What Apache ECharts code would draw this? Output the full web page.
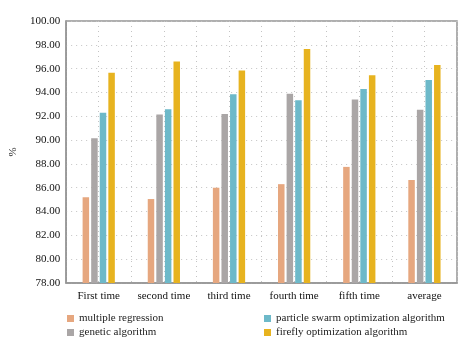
<!DOCTYPE html>
<html>
<head>
<meta charset="utf-8">
<script src="https://cdn.jsdelivr.net/npm/echarts@6/dist/echarts.min.js"></script>
<style>
  html, body { margin: 0; padding: 0; background: #fff; }
  #chart { width: 474px; height: 353px; }
</style>
</head>
<body>
<div id="chart"></div>
<script>
const categories = ['First time', 'second time', 'third time', 'fourth time', 'fifth time', 'average']
const multipleRegression = [85.2, 85.05, 86.0, 86.3, 87.75, 86.65]
const geneticAlgorithm = [90.15, 92.15, 92.2, 93.9, 93.4, 92.55]
const particleSwarm = [92.3, 92.6, 93.85, 93.35, 94.3, 95.05]
const fireflyAlgorithm = [95.65, 96.6, 95.85, 97.65, 95.45, 96.3]
const yTicks = { min: 78, max: 100, step: 2 }

const seriesNames = [
  'multiple regression',
  'genetic algorithm',
  'particle swarm optimization algorithm',
  'firefly optimization algorithm'
]
const seriesData = [multipleRegression, geneticAlgorithm, particleSwarm, fireflyAlgorithm]
const colors = ['#e6a77f', '#aaa6a6', '#6db9c9', '#e7b31f']

const font = '"Liberation Serif", "DejaVu Serif", serif'
const dotted = { color: '#c4c4c4', type: [1, 4], width: 1 }

const chart = echarts.init(document.getElementById('chart'))

const legendStyle = {
  orient: 'vertical',
  top: 308,
  itemWidth: 7,
  itemHeight: 7,
  itemGap: 3,
  icon: 'rect',
  textStyle: { fontFamily: font, fontSize: 11, color: '#222' }
}

chart.setOption({
  animation: false,
  textStyle: { fontFamily: font },
  grid: {
    left: 64,
    right: 17,
    top: 21,
    bottom: 70,
    show: true,
    borderColor: '#959595',
    borderWidth: 1.5
  },
  legend: [
    Object.assign({ data: seriesNames.slice(0, 2), left: 62 }, legendStyle),
    Object.assign({ data: seriesNames.slice(2), left: 259 }, legendStyle)
  ],
  xAxis: [
    {
      type: 'category',
      data: categories,
      axisLine: { show: true, lineStyle: { color: '#959595', width: 1.5 } },
      axisTick: { show: false },
      axisLabel: { interval: 0, color: '#111', fontSize: 11, fontFamily: font, margin: 8 },
      splitLine: { show: true, interval: 0, lineStyle: dotted }
    },
    {
      // half-category split lines for the dotted lines through the group centres
      type: 'category',
      data: categories.flatMap(c => [c + ' a', c + ' b']),
      position: 'top',
      axisLine: { show: false },
      axisTick: { show: false },
      axisLabel: { show: false },
      splitLine: { show: true, interval: 0, lineStyle: dotted }
    }
  ],
  yAxis: {
    type: 'value',
    min: yTicks.min,
    max: yTicks.max,
    interval: yTicks.step,
    name: '%',
    nameLocation: 'middle',
    nameGap: 37,
    nameRotate: 90,
    nameTextStyle: { fontFamily: font, fontSize: 11, color: '#222' },
    axisLine: { show: true, lineStyle: { color: '#959595', width: 1.5 } },
    axisTick: { show: false },
    axisLabel: {
      color: '#111',
      fontSize: 11,
      fontFamily: font,
      margin: 6,
      formatter: v => v.toFixed(2)
    },
    splitLine: { show: true, lineStyle: dotted }
  },
  series: seriesNames.map((name, i) => ({
    name,
    type: 'bar',
    xAxisIndex: 0,
    data: seriesData[i],
    barWidth: 6.5,
    barGap: '32%',
    itemStyle: { color: colors[i] }
  }))
})
</script>
</body>
</html>
